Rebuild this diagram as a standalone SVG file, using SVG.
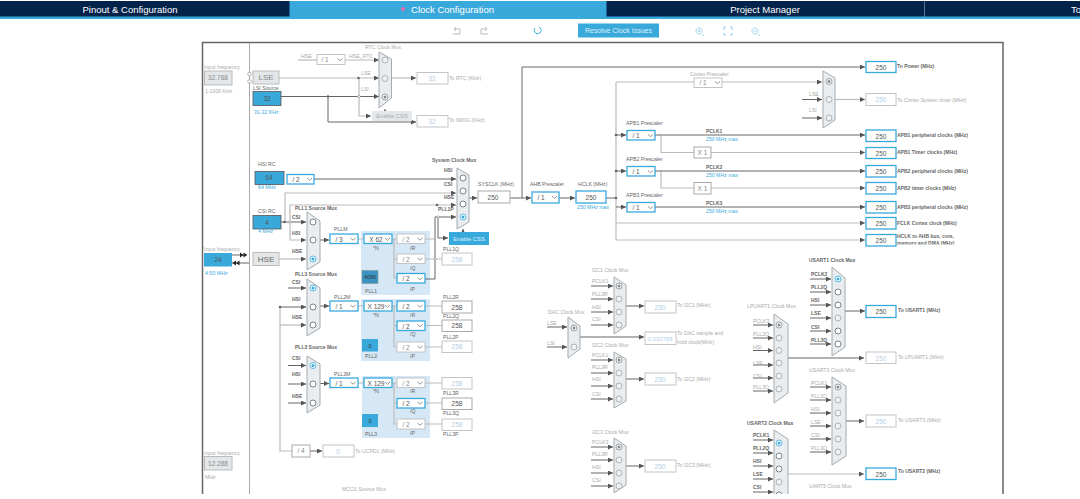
<svg xmlns="http://www.w3.org/2000/svg" width="1080" height="499" viewBox="0 0 1080 499">
<style>
text{font-family:"Liberation Sans",Arial,sans-serif;font-size:5.2px;fill:#666}
.b{fill:#666;font-weight:bold;font-size:5px}
.g{fill:#aaa}
.s{fill:#39a9dc}
.m{text-anchor:middle}
.v{text-anchor:middle;font-size:6.5px;fill:#555}
.vg{text-anchor:middle;font-size:6.5px;fill:#b4cfe8}
.vs{text-anchor:middle;font-size:6.5px;fill:#888}
.h{fill:#fff;font-size:9.5px;text-anchor:middle}
.bx{fill:#fff;stroke:#39a9dc;stroke-width:1.3}
.bg{fill:#fff;stroke:#c4c4c4;stroke-width:1}
.bk{fill:#fff;stroke:#aaa;stroke-width:1}
.fb{fill:#39a9dc;stroke:#555;stroke-width:.8}
.fg{fill:#e4e7e9;stroke:#bbb;stroke-width:1}
.mx{fill:#e9edf0;stroke:#a5abb0;stroke-width:1}
.ln,.lg{fill:none}
.ln{stroke:#666;stroke-width:1}
.lg{stroke:#bbb;stroke-width:1.2}
.ch{fill:none;stroke:#666;stroke-width:.7}
.tool{fill:none;stroke:#bbb;stroke-width:1}
.zi{fill:none;stroke:#8cc8e8;stroke-width:.8}
</style>
<defs>
<marker id="a" markerUnits="userSpaceOnUse" markerWidth="6" markerHeight="5" refX="5" refY="2.5" orient="auto"><path d="M0 0L5 2.5L0 5Z" fill="#555"/></marker>
<clipPath id="page"><rect x="0" y="0" width="1080" height="494"/></clipPath>
<clipPath id="hc"><rect x="890" y="230" width="110" height="14.5"/></clipPath>
<path id="chev" class="ch" d="M-2.5-1L0 1.2L2.5-1"/>
<circle id="off" r="3" fill="#fff" stroke="#666" stroke-width=".8"/>
<circle id="ofg" r="3" fill="#eef0f2" stroke="#999" stroke-width=".7"/>
<g id="on"><circle r="3" fill="#fff" stroke="#39a9dc" stroke-width=".8"/><circle r="1.5" fill="#39a9dc"/></g>
<g id="ong"><circle r="3" fill="#fff" stroke="#888" stroke-width=".8"/><circle r="1.5" fill="#888"/></g>
</defs>
<rect width="1080" height="499" fill="#fff"/>
<g clip-path="url(#page)">
<g id="header">
<rect y="1" width="1080" height="16" fill="#03234b"/>
<rect y="16.500" width="1080" height="2.500" fill="#39a9dc"/>
<rect x="289.500" y="1" width="317" height="17" fill="#39a9dc"/>
<path d="M924.500 1V17" stroke="#6d88a8" stroke-width=".8"/>
<text class="h" x="130" y="12.500">Pinout &amp; Configuration</text>
<circle cx="403" cy="9" r="2" fill="#e86ca8"/>
<text class="h" x="452.500" y="12.500">Clock Configuration</text>
<text class="h" x="765" y="12.500">Project Manager</text>
<text class="h" x="1071" y="12.500" style="text-anchor:start">To</text>
</g>
<g id="toolbar">
<path class="tool" d="M454 29H460V34H453M454 29L456 27M454 29L456 31"/>
<path class="tool" d="M487 29H481V34H488M487 29L485 27M487 29L485 31"/>
<path d="M535 28A3.500 3.500 0 1 0 539 27" fill="none" stroke="#39a9dc" stroke-width="1"/>
<rect id="resolve" x="578" y="23.500" width="81" height="14" fill="#39a9dc"/>
<text x="618.500" y="32.800" text-anchor="middle" style="fill:#dff0fa;font-size:7px">Resolve Clock Issues</text>
<path class="zi" d="M699 28a3 3 0 1 0 .01 0M702 34l2 2M697.500 31h3M699 29.500v3"/>
<path d="M724 30v-3h2M730 27h2v3M732 33v2h-2M726 35h-2v-2" fill="none" stroke="#8cc8e8" stroke-width=".9"/>
<path class="zi" d="M755 28a3 3 0 1 0 .01 0M758 34l2 2M753.500 31h3"/>
</g>
<g id="frame">
<path d="M202.500 494V42.500H1003V494" fill="none" stroke="#666" stroke-width="1.500"/>
<path d="M249.500 43V494" stroke="#aaa" stroke-width="1"/>
</g>
<g id="panels" fill="#d6e7f5">
<rect x="361" y="231" width="69" height="64"/>
<rect x="361" y="299" width="69" height="62"/>
<rect x="362" y="376" width="68" height="62"/>
</g>
<g id="connectors">
<g class="lg">
<path d="M298 60H317"/>
<path d="M345 60H379" marker-end="url(#a)"/>
<path d="M279 78H379" marker-end="url(#a)"/>
<path d="M359 78V116H371" marker-end="url(#a)"/>
<path d="M392 78H416" marker-end="url(#a)"/>
<path d="M385 111V109" marker-end="url(#a)"/>
<path d="M722 82H822" marker-end="url(#a)"/>
<path d="M835 99.500H865" marker-end="url(#a)"/>
<path d="M616 82V240"/>
<path d="M616 82H694"/>
<path d="M661 135V152.500H694M711 152.500H865" marker-end="url(#a)"/>
<path d="M661 171V188H694M711 188H865" marker-end="url(#a)"/>
<path d="M616 223H865" marker-end="url(#a)"/>
<path d="M616 240H865" marker-end="url(#a)"/>
<path d="M279 259H306" marker-end="url(#a)"/>
<path d="M280 307V451H292"/>
<path d="M280 325H306" marker-end="url(#a)"/>
<path d="M285 222V193H456" marker-end="url(#a)"/>
<path d="M290 222V205H456" marker-end="url(#a)"/>
<path d="M290 222V240H306" marker-end="url(#a)"/>
<path d="M788 474H864" marker-end="url(#a)"/>
</g>
<g class="ln">
<path d="M281 96.500H379" marker-end="url(#a)"/>
<path d="M328 96.500V122H416" marker-end="url(#a)"/>
<path d="M314 179H456" marker-end="url(#a)"/>
<path d="M281 222H306" marker-end="url(#a)"/>
<path d="M469 198H477" marker-end="url(#a)"/>
<path d="M510 198H531" marker-end="url(#a)"/>
<path d="M522 198V67H865" marker-end="url(#a)"/>
<path d="M559 198H575" marker-end="url(#a)"/>
<path d="M606 198H616"/>
<path d="M616 135H626" marker-end="url(#a)"/>
<path d="M616 171H626" marker-end="url(#a)"/>
<path d="M616 207H626" marker-end="url(#a)"/>
<path d="M655 135H865" marker-end="url(#a)"/>
<path d="M655 171H865" marker-end="url(#a)"/>
<path d="M655 207H865" marker-end="url(#a)"/>
<path d="M802 99.500H822" marker-end="url(#a)"/>
<path d="M802 118H822" marker-end="url(#a)"/>
<path d="M435 279V217H456" marker-end="url(#a)"/>
<path d="M425 279H435"/>
<path d="M438 217V238H448" marker-end="url(#a)"/>
<path d="M463 232V229" marker-end="url(#a)"/>
<path d="M232 255H247M232 263H249"/>
<path d="M320 240H329" marker-end="url(#a)"/>
<path d="M320 306H329" marker-end="url(#a)"/>
<path d="M320 383.500H329" marker-end="url(#a)"/>
<path d="M288 288H306" marker-end="url(#a)"/>
<path d="M280 307H306" marker-end="url(#a)"/>
<path d="M288 365.500H306" marker-end="url(#a)"/>
<path d="M288 384H306" marker-end="url(#a)"/>
<path d="M288 403H306" marker-end="url(#a)"/>
<path d="M310 451H322" marker-end="url(#a)"/>
</g>
<path d="M240 252.500L243.500 255L240 257.500ZM243.500 252.500L247 255L243.500 257.500ZM236 260.500L232.500 263L236 265.500ZM239.500 260.500L236 263L239.500 265.500Z" fill="#222"/>
<g class="lg">
<path d="M358 239H364M392 239H397M394 239V278H397M394 259H397"/>
<path d="M425 239H434M425 259H442"/>
<path d="M358 306H364M392 306H397M394 306V347H397M394 325.500H397"/>
<path d="M425 306H442M425 325.500H442M425 347H442"/>
<path d="M358 383H364M392 383H397M394 383V424H397M394 403H397"/>
<path d="M425 383H442M425 403H442M425 424H442"/>
</g>
<g class="ln">
<path d="M591 286H613" marker-end="url(#a)"/><path d="M591 299H613" marker-end="url(#a)"/><path d="M591 312H613" marker-end="url(#a)"/><path d="M591 325H613" marker-end="url(#a)"/>
<path d="M591 360H613" marker-end="url(#a)"/><path d="M591 373H613" marker-end="url(#a)"/><path d="M591 386H613" marker-end="url(#a)"/><path d="M591 399H613" marker-end="url(#a)"/>
<path d="M591 447H613" marker-end="url(#a)"/><path d="M591 460H613" marker-end="url(#a)"/><path d="M591 473H613" marker-end="url(#a)"/><path d="M591 486H613" marker-end="url(#a)"/>
<path d="M547 327H567" marker-end="url(#a)"/><path d="M547 347H567" marker-end="url(#a)"/>
<path d="M626 306H644" marker-end="url(#a)"/><path d="M626 379H644" marker-end="url(#a)"/><path d="M626 466H644" marker-end="url(#a)"/>
<path d="M580 337H644" marker-end="url(#a)"/>
<path d="M810 279H831" marker-end="url(#a)"/><path d="M810 292H831" marker-end="url(#a)"/><path d="M810 305H831" marker-end="url(#a)"/><path d="M810 318H831" marker-end="url(#a)"/><path d="M810 331H831" marker-end="url(#a)"/><path d="M810 344H831" marker-end="url(#a)"/>
<path d="M845 311H865" marker-end="url(#a)"/>
<path d="M753 325H773" marker-end="url(#a)"/><path d="M753 338H773" marker-end="url(#a)"/><path d="M753 350.500H773" marker-end="url(#a)"/><path d="M753 365H773" marker-end="url(#a)"/><path d="M753 378H773" marker-end="url(#a)"/><path d="M753 391H773" marker-end="url(#a)"/>
<path d="M788 358H864" marker-end="url(#a)"/>
<path d="M810 387H831" marker-end="url(#a)"/><path d="M810 400H831" marker-end="url(#a)"/><path d="M810 413H831" marker-end="url(#a)"/><path d="M810 426H831" marker-end="url(#a)"/><path d="M810 439H831" marker-end="url(#a)"/><path d="M810 452H831" marker-end="url(#a)"/>
<path d="M846 421H864" marker-end="url(#a)"/>
<path d="M753 440H773" marker-end="url(#a)"/><path d="M753 453H773" marker-end="url(#a)"/><path d="M753 466H773" marker-end="url(#a)"/><path d="M753 479H773" marker-end="url(#a)"/><path d="M753 492H773" marker-end="url(#a)"/>
</g>
<g fill="#666">
<circle cx="328" cy="96.500" r="1.300"/><circle cx="358.500" cy="78" r="1.300"/><circle cx="284.500" cy="222" r="1.300"/><circle cx="437" cy="205" r="1.300"/><circle cx="616" cy="135" r="1.300"/><circle cx="616" cy="171" r="1.300"/><circle cx="616" cy="198" r="1.300"/><circle cx="280" cy="307" r="1.300"/>
</g>
<g fill="#fff" stroke="#888" stroke-width=".6">
<circle cx="249.500" cy="74" r="1.800"/><circle cx="249.500" cy="81.500" r="1.800"/><circle cx="359" cy="96.500" r="1.200"/><circle cx="290" cy="222" r="1.200"/><circle cx="438" cy="217" r="1.200"/><circle cx="435" cy="259" r="1.200"/>
</g>
</g>
<g id="src-lse-input"><text class="g" x="204" y="69">Input frequency</text><rect class="fg" x="204.500" y="71" width="27.500" height="14"/><text class="vs" x="218" y="80.300">32.768</text><text class="g" x="205" y="93">1-1000 KHz</text></g>
<g id="src-lse"><rect class="fg" x="253" y="71" width="26" height="13"/><text x="266" y="80" text-anchor="middle" style="font-size:8px;fill:#888">LSE</text></g>
<g id="src-lsi"><text x="253" y="90">LSI Source</text><rect class="fb" x="253" y="91.500" width="28" height="14"/><text class="v" x="267" y="100.800">32</text><text class="s" x="254" y="114">31-32 KHz</text></g>
<g id="rtc-mux"><text class="g m" x="383" y="49">RTC Clock Mux</text><polygon class="mx" points="379,52 391.500,59 391.500,98 379,108"/><use href="#ofg" x="385" y="60"/><use href="#ofg" x="385" y="78.500"/><use href="#ong" x="385" y="97"/><text class="g" x="301" y="57.500">HSE</text><text class="g" x="349" y="57.500">HSE_RTC</text><text class="g" x="361" y="75">LSE</text><text class="g" x="361" y="91">LSI</text></g>
<g id="hse-rtc"><rect class="bg" x="317" y="54.500" width="28" height="10"/><text class="vs" x="325" y="62">/ 1</text><use href="#chev" x="340" y="59.500"/></g>
<g id="enable-css-rtc"><rect x="372" y="111" width="40" height="10" fill="#e4e7e9"/><text class="g m" x="392" y="118.200" style="font-size:5.800px">Enable CSS</text></g>
<g id="to-rtc"><rect class="bg" x="417" y="72.500" width="31" height="11.500"/><text class="vg" x="432" y="80.500">32</text><text class="g" x="449" y="80">To RTC (KHz)</text></g>
<g id="to-iwdg"><rect class="bg" x="417" y="115.500" width="31" height="11.500"/><text class="vg" x="432" y="124">32</text><text class="g" x="449" y="122">To IWDG (KHz)</text></g>
<g id="hsi-rc"><text x="258" y="166">HSI RC</text><rect class="fb" x="255" y="171.500" width="29" height="13"/><text class="v" x="269" y="180.300">64</text><text class="s" x="258" y="189">64 MHz</text></g>
<g id="hsi-div"><rect class="bx" x="287" y="174.500" width="27" height="9.500"/><text class="v" x="296" y="181.800">/ 2</text><use href="#chev" x="309.500" y="179"/></g>
<g id="csi-rc"><text x="258" y="213">CSI RC</text><rect class="fb" x="253" y="215.500" width="28" height="13.500"/><text class="v" x="267" y="224.500">4</text><text class="s" x="258" y="233">4 MHz</text></g>
<g id="hse-box"><rect class="fg" x="253" y="252.500" width="26" height="13"/><text x="266" y="261.500" text-anchor="middle" style="font-size:8px;fill:#666">HSE</text></g>
<g id="hse-input"><text x="204" y="251" class="g">Input frequency</text><rect x="204" y="253" width="28" height="13.500" fill="#39a9dc"/><text class="v" x="218" y="262">24</text><text class="s" x="205" y="275">4-50 MHz</text></g>
<g id="i2s-input"><text class="g" x="204" y="455">Input frequency</text><rect class="fg" x="204.500" y="456.500" width="27.500" height="13.500"/><text class="vs" x="218" y="465.500">12.288</text><text class="g" x="205" y="479">MHz</text></g>
<g id="pll1-mux"><text class="b" x="295" y="210">PLL1 Source Mux</text><polygon class="mx" points="307,212 320,221 320,262 307,270"/><use href="#off" x="313" y="222"/><use href="#off" x="313" y="240"/><use href="#on" x="313" y="259"/><text class="b" x="292" y="219">CSI</text><text class="b" x="292" y="235">HSI</text><text class="b" x="292" y="253">HSE</text></g>
<g id="pll1m"><text x="334" y="231">PLLM</text><rect class="bx" x="330" y="234" width="28" height="9.500"/><text class="v" x="339" y="241.500">/ 3</text><use href="#chev" x="353" y="239"/></g>
<g id="pll1n"><rect class="bx" x="364" y="234" width="28" height="9.500"/><text class="v" x="376" y="241.500">X 62</text><use href="#chev" x="387.500" y="239"/><text x="373" y="250">*N</text></g>
<g id="pll1r"><rect class="bg" x="397" y="234" width="28" height="9.500"/><text class="vs" x="406" y="241.500">/ 2</text><use href="#chev" x="420" y="239"/><text x="410" y="250">/R</text></g>
<g id="pll1q"><rect class="bg" x="397" y="254" width="28" height="9.500"/><text class="vs" x="406" y="261.500">/ 2</text><use href="#chev" x="420" y="259"/><text x="410" y="270">/Q</text></g>
<g id="pll1p"><rect class="bx" x="397" y="273.500" width="28" height="9.500"/><text class="v" x="406" y="281">/ 2</text><use href="#chev" x="420" y="278.500"/><text x="410" y="291">/P</text></g>
<g id="pll1-frac"><rect x="362" y="270.500" width="16" height="13" fill="#3a95c4" stroke="#888" stroke-width=".5"/><text class="m" x="370" y="279" style="font-size:5.500px;fill:#333">4096</text><text x="365" y="293">PLL1</text></g>
<g id="pll1q-out"><text x="443" y="251">PLL1Q</text><rect class="bg" x="442" y="253" width="30" height="12"/><text class="vg" x="457" y="261.500">258</text></g>
<g id="pll2-mux"><text class="b" x="295" y="276">PLL3 Source Mux</text><polygon class="mx" points="307,279 320,288 320,328 307,336"/><use href="#on" x="313" y="288"/><use href="#off" x="313" y="307"/><use href="#off" x="313" y="325"/><text class="b" x="292" y="284">CSI</text><text class="b" x="292" y="301">HSI</text><text class="b" x="292" y="319">HSE</text></g>
<g id="pll2m"><text x="334" y="299">PLL2M</text><rect class="bx" x="330" y="301" width="28" height="10"/><text class="v" x="339" y="308.500">/ 1</text><use href="#chev" x="353" y="306"/></g>
<g id="pll2n"><rect class="bx" x="364" y="301" width="28" height="10"/><text class="v" x="376" y="308.500">X 129</text><use href="#chev" x="387.500" y="306"/><text x="373" y="317">*N</text></g>
<g id="pll2r"><rect class="bx" x="397" y="301" width="28" height="10"/><text class="v" x="406" y="308.500">/ 2</text><use href="#chev" x="420" y="306"/><text x="410" y="317">/R</text></g>
<g id="pll2q"><rect class="bx" x="397" y="321" width="28" height="9.500"/><text class="v" x="406" y="328.500">/ 2</text><use href="#chev" x="420" y="325.500"/><text x="410" y="336">/Q</text></g>
<g id="pll2p"><rect class="bg" x="397" y="342" width="28" height="10"/><text class="vs" x="406" y="349.500">/ 2</text><use href="#chev" x="420" y="347"/><text x="410" y="358">/P</text></g>
<g id="pll2-frac"><rect x="362" y="339" width="16" height="12.500" fill="#39a9dc"/><text class="m" x="370" y="347.500" style="font-size:5.500px;fill:#333">0</text><text x="365" y="358">PLL2</text></g>
<g id="pll2r-out"><text x="443" y="299">PLL2R</text><rect class="bk" x="442" y="301" width="30" height="12"/><text class="v" x="457" y="309.500">258</text></g>
<g id="pll2q-out"><text x="443" y="318">PLL2Q</text><rect class="bk" x="442" y="320" width="30" height="11.500"/><text class="v" x="457" y="328">258</text></g>
<g id="pll2p-out"><text x="443" y="339">PLL2P</text><rect class="bg" x="442" y="341" width="30" height="11.500"/><text class="vg" x="457" y="349">258</text></g>
<g id="pll3-mux"><text class="b" x="295" y="349">PLL3 Source Mux</text><polygon class="mx" points="307,356 320,364 320,405 307,413"/><use href="#on" x="313" y="365.500"/><use href="#off" x="313" y="384"/><use href="#off" x="313" y="403"/><text class="b" x="292" y="360">CSI</text><text class="b" x="292" y="376">HSI</text><text class="b" x="292" y="398">HSE</text></g>
<g id="pll3m"><text x="334" y="376">PLL3M</text><rect class="bx" x="330" y="378" width="28" height="9.500"/><text class="v" x="339" y="385.500">/ 1</text><use href="#chev" x="353" y="383"/></g>
<g id="pll3n"><rect class="bx" x="364" y="378" width="28" height="9.500"/><text class="v" x="376" y="385.500">X 129</text><use href="#chev" x="387.500" y="383"/><text x="373" y="393">*N</text></g>
<g id="pll3r"><rect class="bg" x="397" y="378" width="28" height="9.500"/><text class="vs" x="406" y="385.500">/ 2</text><use href="#chev" x="420" y="383"/><text x="410" y="393">/R</text></g>
<g id="pll3q"><rect class="bx" x="397" y="398.500" width="28" height="9.500"/><text class="v" x="406" y="406">/ 2</text><use href="#chev" x="420" y="403"/><text x="410" y="413">/Q</text></g>
<g id="pll3p"><rect class="bg" x="397" y="419" width="28" height="10"/><text class="vs" x="406" y="426.500">/ 2</text><use href="#chev" x="420" y="424"/><text x="410" y="435">/P</text></g>
<g id="pll3-frac"><rect x="362" y="414" width="16" height="13" fill="#39a9dc"/><text class="m" x="370" y="422.500" style="font-size:5.500px;fill:#333">0</text><text x="365" y="436">PLL3</text></g>
<g id="pll3r-out"><rect class="bg" x="442" y="377.500" width="30" height="11.500"/><text class="vg" x="457" y="386">258</text><text x="443" y="394.500">PLL3R</text></g>
<g id="pll3q-out"><rect class="bk" x="442" y="398" width="30" height="11.500"/><text class="v" x="457" y="406">258</text><text x="443" y="415">PLL3Q</text></g>
<g id="pll3p-out"><rect class="bg" x="442" y="419" width="30" height="11.500"/><text class="vg" x="457" y="427">258</text><text x="443" y="436">PLL3P</text></g>
<g id="ucpd"><rect class="bk" x="292" y="445" width="18" height="12"/><text class="vs" x="301" y="453.200">/ 4</text><rect class="bg" x="323" y="445" width="31" height="12"/><text class="vg" x="338" y="453.500">0</text><text class="g" x="355" y="453">To UCPD1 (MHz)</text></g>
<g id="mco1"><text class="g m" x="364" y="491">MCO1 Source Mux</text></g>
<g id="sys-mux"><text class="b" x="432" y="161.500">System Clock Mux</text><polygon class="mx" points="457,168 469,175 469,222 457,229"/><use href="#off" x="463" y="178"/><use href="#off" x="463" y="191"/><use href="#off" x="463" y="204"/><use href="#on" x="463" y="217"/><text class="b" x="444" y="172">HSI</text><text class="b" x="444" y="186">CSI</text><text class="b" x="444" y="199">HSE</text><text class="b" x="438" y="211">PLL1P</text></g>
<g id="enable-css"><rect x="449" y="232" width="40" height="13" fill="#39a9dc"/><text class="m" x="469" y="240.500" style="font-size:5.800px;fill:#dff0fa">Enable CSS</text></g>
<g id="sysclk"><text x="478" y="186">SYSCLK (MHz)</text><rect class="bk" x="478" y="191" width="32" height="12"/><text class="v" x="493" y="199.500">250</text></g>
<g id="ahb"><text x="530" y="186">AHB Prescaler</text><rect class="bx" x="532" y="192" width="27" height="11"/><text class="v" x="541" y="199.500">/ 1</text><use href="#chev" x="554.500" y="197"/></g>
<g id="hclk"><text x="578" y="186">HCLK (MHz)</text><rect class="bx" x="576" y="191" width="30" height="12"/><text class="v" x="591" y="199.500">250</text><text class="s" x="577" y="209">250 MHz max</text></g>
<g id="cortex-pre"><text class="g" x="690" y="76">Cortex Prescaler</text><rect class="bg" x="694" y="78" width="28" height="9.500"/><text class="vs" x="703" y="85.200">/ 1</text><use href="#chev" x="717.500" y="82.500"/></g>
<g id="cortex-mux"><polygon class="mx" points="823,71 835,78 835,120 823,128"/><use href="#ong" x="829" y="81.500"/><use href="#ofg" x="829" y="99.500"/><use href="#ofg" x="829" y="118"/><text class="g" x="809" y="96">LSE</text><text class="g" x="809" y="111.500">LSI</text></g>
<g id="apb1"><text x="626" y="125">APB1 Prescaler</text><rect class="bx" x="627" y="130.500" width="28" height="9.500"/><text class="v" x="636" y="138">/ 1</text><use href="#chev" x="650.500" y="135.500"/><text class="b" x="706" y="132.500">PCLK1</text><text class="s" x="706" y="140.500">250 MHz max</text><rect class="bk" x="694" y="147" width="17" height="11"/><text class="vs" x="702.500" y="155">X 1</text></g>
<g id="apb2"><text x="626" y="161">APB2 Prescaler</text><rect class="bx" x="627" y="166.500" width="28" height="9.500"/><text class="v" x="636" y="174">/ 1</text><use href="#chev" x="650.500" y="171.500"/><text class="b" x="706" y="168.500">PCLK2</text><text class="s" x="706" y="176.500">250 MHz max</text><rect class="bk" x="694" y="182.500" width="17" height="11.500"/><text class="vs" x="702.500" y="191">X 1</text></g>
<g id="apb3"><text x="626" y="197">APB3 Prescaler</text><rect class="bx" x="627" y="202.500" width="28" height="9.500"/><text class="v" x="636" y="210">/ 1</text><use href="#chev" x="650.500" y="207.500"/><text class="b" x="706" y="204.500">PCLK3</text><text class="s" x="706" y="212.500">250 MHz max</text></g>
<g id="out-power"><rect class="bx" x="866" y="61.500" width="30" height="11"/><text class="v" x="881" y="69.500">250</text><text class="b" x="897" y="68">To Power (MHz)</text></g>
<g id="out-systick"><rect class="bg" x="866" y="93.500" width="30" height="12"/><text class="vg" x="881" y="102">250</text><text class="g" x="897" y="101.500">To Cortex System timer (MHz)</text></g>
<g id="out-apb1p"><rect class="bx" x="866" y="130" width="30" height="11.500"/><text class="v" x="881" y="138.500">250</text><text class="b" x="897" y="137">APB1 peripheral clocks (MHz)</text></g>
<g id="out-apb1t"><rect class="bx" x="866" y="147.500" width="30" height="11"/><text class="v" x="881" y="155.500">250</text><text class="b" x="897" y="154">APB1 Timer clocks (MHz)</text></g>
<g id="out-apb2p"><rect class="bx" x="866" y="165.500" width="30" height="11.500"/><text class="v" x="881" y="174">250</text><text class="b" x="897" y="172.500">APB2 peripheral clocks (MHz)</text></g>
<g id="out-apb2t"><rect class="bx" x="866" y="182.500" width="30" height="11.500"/><text class="v" x="881" y="191">250</text><text class="b" x="897" y="189.500">APB2 timer clocks (MHz)</text></g>
<g id="out-apb3p"><rect class="bx" x="866" y="201.500" width="30" height="11.500"/><text class="v" x="881" y="210">250</text><text class="b" x="897" y="208.500">APB3 peripheral clocks (MHz)</text></g>
<g id="out-fclk"><rect class="bx" x="866" y="217.500" width="30" height="11.500"/><text class="v" x="881" y="226">250</text><text class="b" x="897" y="224.500">FCLK Cortex clock (MHz)</text></g>
<g id="out-hclk"><rect class="bx" x="866" y="234.500" width="30" height="11.500"/><text class="v" x="881" y="243">250</text><text class="b" x="897" y="237.500">HCLK to AHB bus, core,</text><text class="b" x="897" y="244.500" clip-path="url(#hc)">memory and DMA (MHz)</text></g>
<g id="i2c1-mux"><text class="g" x="592" y="272">I2C1 Clock Mux</text><polygon class="mx" points="614,277 626,285 626,326 614,334"/><use href="#ong" x="619" y="286"/><use href="#ofg" x="619" y="299"/><use href="#ofg" x="619" y="312"/><use href="#ofg" x="619" y="325"/><text class="g" x="592" y="283">PCLK1</text><text class="g" x="592" y="296">PLL3R</text><text class="g" x="592" y="309">HSI</text><text class="g" x="592" y="321">CSI</text></g>
<g id="i2c1-out"><rect class="bg" x="645" y="301" width="31" height="12"/><text class="vg" x="660" y="309.500">250</text><text class="g" x="677" y="307">To I2C1 (MHz)</text></g>
<g id="dac-mux"><text class="g" x="548" y="314">DAC Clock Mux</text><polygon class="mx" points="568,317 580,326 580,349 568,358"/><use href="#ong" x="574" y="328"/><use href="#ofg" x="574" y="347"/><text class="g" x="547" y="325">LSE</text><text class="g" x="547" y="345">LSI</text></g>
<g id="dac-out"><rect class="bg" x="645" y="332" width="31" height="12.500"/><text class="vg" x="660" y="340.500" style="font-size:6px">0.032768</text><text class="g" x="677" y="335">To DAC sample and</text><text class="g" x="677" y="343.500">hold clock(MHz)</text></g>
<g id="i2c2-mux"><text class="g" x="592" y="346.500">I2C2 Clock Mux</text><polygon class="mx" points="614,352 626,359 626,401 614,408"/><use href="#ong" x="619" y="360"/><use href="#ofg" x="619" y="373"/><use href="#ofg" x="619" y="386"/><use href="#ofg" x="619" y="399"/><text class="g" x="592" y="357">PCLK1</text><text class="g" x="592" y="369">PLL3R</text><text class="g" x="592" y="381">HSI</text><text class="g" x="592" y="396">CSI</text></g>
<g id="i2c2-out"><rect class="bg" x="645" y="373" width="31" height="12"/><text class="vg" x="660" y="381.500">250</text><text class="g" x="677" y="380.500">To I2C2 (MHz)</text></g>
<g id="i2c3-mux"><text class="g" x="592" y="434">I2C3 Clock Mux</text><polygon class="mx" points="614,438 626,446 626,485 614,493"/><use href="#ong" x="619" y="447"/><use href="#ofg" x="619" y="460"/><use href="#ofg" x="619" y="473"/><use href="#ofg" x="619" y="486"/><text class="g" x="592" y="444">PCLK3</text><text class="g" x="592" y="456">PLL3R</text><text class="g" x="592" y="469">HSI</text><text class="g" x="592" y="482">CSI</text></g>
<g id="i2c3-out"><rect class="bg" x="645" y="460" width="31" height="12"/><text class="vg" x="660" y="468.500">250</text><text class="g" x="677" y="467">To I2C3 (MHz)</text></g>
<g id="usart1-mux"><text class="b" x="809" y="262">USART1 Clock Mux</text><polygon class="mx" points="832,267 845,278 845,347 832,356"/><use href="#on" x="838" y="279"/><use href="#off" x="838" y="292"/><use href="#off" x="838" y="305"/><use href="#ofg" x="838" y="318"/><use href="#off" x="838" y="331"/><use href="#off" x="838" y="344"/><text class="b" x="811" y="276">PCLK2</text><text class="b" x="811" y="289">PLL2Q</text><text class="b" x="811" y="302">HSI</text><text class="b" x="811" y="315">LSE</text><text class="b" x="811" y="329">CSI</text><text class="b" x="811" y="342">PLL3Q</text></g>
<g id="usart1-out"><rect class="bx" x="866" y="305.500" width="30" height="12"/><text class="v" x="881" y="314">250</text><text class="b" x="898" y="312">To USART1 (MHz)</text></g>
<g id="lpuart1-mux"><text class="g" x="747" y="308">LPUART1 Clock Mux</text><polygon class="mx" points="774,314 788,324 788,393 774,403"/><use href="#ong" x="779" y="325"/><use href="#ofg" x="779" y="338"/><use href="#ofg" x="779" y="350.500"/><use href="#ofg" x="779" y="363"/><use href="#ofg" x="779" y="376"/><use href="#ofg" x="779" y="389"/><text class="g" x="753" y="323">PCLK3</text><text class="g" x="753" y="336">PLL2Q</text><text class="g" x="753" y="349">HSI</text><text class="g" x="753" y="365">LSE</text><text class="g" x="753" y="378">CSI</text><text class="g" x="753" y="389">PLL3Q</text></g>
<g id="lpuart1-out"><rect class="bg" x="866" y="352" width="30" height="11.500"/><text class="vg" x="881" y="360.500">250</text><text class="g" x="898" y="359">To LPUART1 (MHz)</text></g>
<g id="usart3-mux"><text class="g" x="809" y="372">USART3 Clock Mux</text><polygon class="mx" points="832,377 846,386 846,456 832,465"/><use href="#ong" x="838" y="387"/><use href="#ofg" x="838" y="400"/><use href="#ofg" x="838" y="413"/><use href="#ofg" x="838" y="426"/><use href="#ofg" x="838" y="439"/><use href="#ofg" x="838" y="452"/><text class="g" x="811" y="385">PCLK1</text><text class="g" x="811" y="398">PLL2Q</text><text class="g" x="811" y="411">HSI</text><text class="g" x="811" y="424">LSE</text><text class="g" x="811" y="437">CSI</text><text class="g" x="811" y="450">PLL3Q</text></g>
<g id="usart3-out"><rect class="bg" x="866" y="415" width="30" height="12"/><text class="vg" x="881" y="423.500">250</text><text class="g" x="898" y="422">To USART3 (MHz)</text></g>
<g id="usart2-mux"><text class="b" x="747" y="424.500">USART2 Clock Mux</text><polygon class="mx" points="774,430 788,439 788,510 774,520"/><use href="#on" x="779" y="443"/><use href="#off" x="779" y="456"/><use href="#off" x="779" y="469"/><use href="#ofg" x="779" y="482"/><use href="#off" x="779" y="495"/><text class="b" x="753" y="437">PCLK1</text><text class="b" x="753" y="450">PLL2Q</text><text class="b" x="753" y="463">HSI</text><text class="b" x="753" y="476">LSE</text><text class="b" x="753" y="489">CSI</text></g>
<g id="usart2-out"><rect class="bx" x="866" y="468" width="30" height="11.500"/><text class="v" x="881" y="476.500">250</text><text class="b" x="898" y="473">To USART2 (MHz)</text></g>
<g id="uart5-mux"><text class="g" x="809" y="488">UART5 Clock Mux</text></g>
</g>
</svg>
